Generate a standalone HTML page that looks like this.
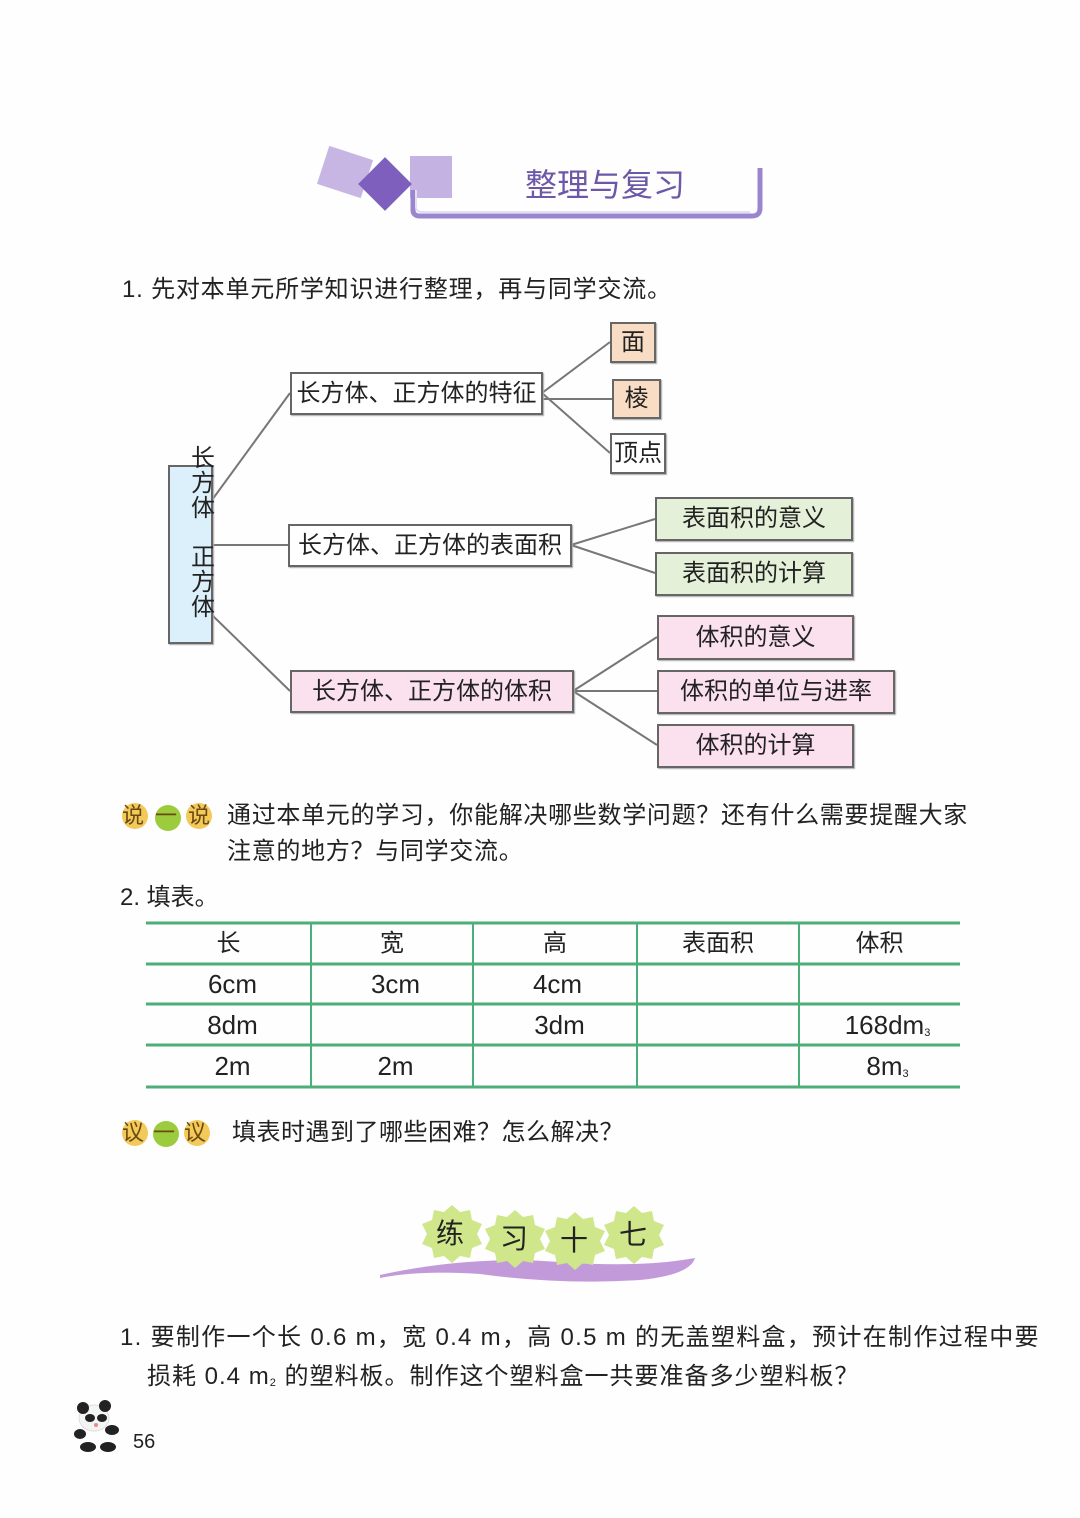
<!DOCTYPE html>
<html><head><meta charset="utf-8"><style>
body{margin:0;background:#fff;}
#p{position:relative;width:1080px;height:1518px;background:#fefefe;overflow:hidden;font-family:"Liberation Sans","Noto Sans CJK SC",sans-serif;color:#222;}
.t{position:absolute;white-space:nowrap;font-size:24px;line-height:30px;}
.b{position:absolute;box-sizing:border-box;border:2px solid #666;font-size:24px;line-height:1;display:flex;align-items:center;justify-content:center;white-space:nowrap;box-shadow:1px 1px 1px #aaa;}
.c{position:absolute;font-size:26px;text-align:center;line-height:30px;}
sub{font-size:11px;vertical-align:-2px;}
</style></head><body><div id="p">
<svg width="1080" height="1518" style="position:absolute;left:0;top:0">
 <rect x="322" y="152" width="46" height="40" fill="#c7b6e4" transform="rotate(18 345 172)"/>
 <rect x="410" y="156" width="42" height="42" fill="#c4b2e2"/>
 <rect x="366" y="165" width="38" height="38" fill="#7e5fbe" transform="rotate(45 385 184)"/>
 <path d="M413 190 V210 Q413 216 420 216 H752 Q760 216 760 208 V168" fill="none" stroke="#9a86cf" stroke-width="5"/>
 <path d="M416 190 V207 Q416 212 422 212 H750" fill="none" stroke="#e4ddf4" stroke-width="2"/>
 <g stroke="#777" stroke-width="2" fill="none">
  <line x1="212" y1="500" x2="290" y2="393"/>
  <line x1="212" y1="545" x2="288" y2="545"/>
  <line x1="212" y1="615" x2="290" y2="691"/>
  <line x1="542" y1="393" x2="610" y2="342"/>
  <line x1="542" y1="399" x2="612" y2="399"/>
  <line x1="542" y1="393" x2="610" y2="453"/>
  <line x1="571" y1="545" x2="655" y2="519"/>
  <line x1="571" y1="545" x2="655" y2="573"/>
  <line x1="573" y1="691" x2="657" y2="637"/>
  <line x1="573" y1="691" x2="657" y2="691"/>
  <line x1="573" y1="691" x2="657" y2="745"/>
 </g>
 <g stroke="#4cae78" stroke-width="3">
  <line x1="146" y1="923" x2="960" y2="923"/>
  <line x1="146" y1="964" x2="960" y2="964"/>
  <line x1="146" y1="1004" x2="960" y2="1004"/>
  <line x1="146" y1="1045" x2="960" y2="1045"/>
  <line x1="146" y1="1087" x2="960" y2="1087"/>
 </g>
 <g stroke="#4cae78" stroke-width="2">
  <line x1="311" y1="923" x2="311" y2="1087"/>
  <line x1="473" y1="923" x2="473" y2="1087"/>
  <line x1="637" y1="923" x2="637" y2="1087"/>
  <line x1="799" y1="923" x2="799" y2="1087"/>
 </g>
 <circle cx="135" cy="816" r="13" fill="#f3c95a"/><circle cx="168" cy="818" r="13" fill="#9ccb3e"/><circle cx="199" cy="816" r="13" fill="#f3c95a"/>
 <circle cx="135" cy="1133" r="13" fill="#f3c95a"/><circle cx="166" cy="1134" r="13" fill="#9ccb3e"/><circle cx="197" cy="1133" r="13" fill="#f3c95a"/>
 <path d="M380 1275 Q470 1255 560 1262 Q640 1268 695 1258 Q690 1275 640 1280 Q560 1285 480 1274 Q420 1270 380 1278Z" fill="#c39ad9"/>
 <g fill="#cfe68a">
  <polygon points="452,1205 460,1212 470,1210 472,1220 482,1224 477,1234 482,1244 472,1248 470,1258 460,1256 452,1263 444,1256 434,1258 432,1248 422,1244 427,1234 422,1224 432,1220 434,1210 444,1212"/>
  <polygon points="515,1210 523,1217 533,1215 535,1225 545,1229 540,1239 545,1249 535,1253 533,1263 523,1261 515,1268 507,1261 497,1263 495,1253 485,1249 490,1239 485,1229 495,1225 497,1215 507,1217"/>
  <polygon points="575,1212 583,1219 593,1217 595,1227 605,1231 600,1241 605,1251 595,1255 593,1265 583,1263 575,1270 567,1263 557,1265 555,1255 545,1251 550,1241 545,1231 555,1227 557,1217 567,1219"/>
  <polygon points="634,1206 642,1213 652,1211 654,1221 664,1225 659,1235 664,1245 654,1249 652,1259 642,1257 634,1264 626,1257 616,1259 614,1249 604,1245 609,1235 604,1225 614,1221 616,1211 626,1213"/>
 </g>
 <ellipse cx="94" cy="1418" rx="15" ry="13" fill="#f4f4f4" stroke="#ddd"/>
 <g fill="#222"><circle cx="83" cy="1408" r="6"/><circle cx="105" cy="1406" r="6"/><ellipse cx="90" cy="1418" rx="5" ry="4"/><ellipse cx="102" cy="1418" rx="5" ry="4"/><ellipse cx="80" cy="1434" rx="6" ry="5"/><ellipse cx="112" cy="1430" rx="7" ry="5"/><ellipse cx="88" cy="1447" rx="8" ry="5"/><ellipse cx="108" cy="1447" rx="8" ry="5"/></g>
 <circle cx="96" cy="1425" r="2" fill="#e88"/>
</svg>
<div class="t" style="left:525px;top:166px;font-size:32px;line-height:38px;color:#6d58a8;">整理与复习</div>
<div class="t" style="left:122px;top:275px;letter-spacing:0.8px;">1. 先对本单元所学知识进行整理，再与同学交流。</div>
<div class="b" style="left:168px;top:465px;width:45px;height:179px;background:#dcf0fb;"></div>
<div class="t" style="left:191px;top:446px;width:26px;font-size:24px;line-height:25px;white-space:normal;">长方体</div>
<div class="t" style="left:191px;top:545px;width:26px;font-size:24px;line-height:25px;white-space:normal;">正方体</div>
<div class="b" style="left:290px;top:372px;width:253px;height:43px;background:#fff;">长方体、正方体的特征</div>
<div class="b" style="left:610px;top:322px;width:46px;height:41px;background:#f9dcc4;">面</div>
<div class="b" style="left:612px;top:379px;width:49px;height:40px;background:#f9dcc4;">棱</div>
<div class="b" style="left:610px;top:433px;width:56px;height:41px;background:#fff;">顶点</div>
<div class="b" style="left:288px;top:524px;width:284px;height:43px;background:#fff;">长方体、正方体的表面积</div>
<div class="b" style="left:655px;top:497px;width:198px;height:44px;background:#e4f0d8;">表面积的意义</div>
<div class="b" style="left:655px;top:552px;width:198px;height:44px;background:#e4f0d8;">表面积的计算</div>
<div class="b" style="left:290px;top:670px;width:284px;height:43px;background:#fbe0ee;">长方体、正方体的体积</div>
<div class="b" style="left:657px;top:615px;width:197px;height:45px;background:#fbe0ee;">体积的意义</div>
<div class="b" style="left:657px;top:670px;width:238px;height:44px;background:#fbe0ee;">体积的单位与进率</div>
<div class="b" style="left:657px;top:724px;width:197px;height:44px;background:#fbe0ee;">体积的计算</div>
<div class="t" style="left:122px;top:801px;font-size:22px;color:#6a4a10;letter-spacing:11px;">说一说</div>
<div class="t" style="left:227px;top:801px;letter-spacing:0.7px;">通过本单元的学习，你能解决哪些数学问题？还有什么需要提醒大家</div>
<div class="t" style="left:227px;top:837px;letter-spacing:0.7px;">注意的地方？与同学交流。</div>
<div class="t" style="left:120px;top:883px;">2. 填表。</div>
<div class="c" style="left:146px;top:929px;width:165px;font-size:24px;">长</div>
<div class="c" style="left:311px;top:929px;width:162px;font-size:24px;">宽</div>
<div class="c" style="left:473px;top:929px;width:164px;font-size:24px;">高</div>
<div class="c" style="left:637px;top:929px;width:162px;font-size:24px;">表面积</div>
<div class="c" style="left:799px;top:929px;width:161px;font-size:24px;">体积</div>
<div class="c" style="left:150px;top:969px;width:165px;">6cm</div>
<div class="c" style="left:313px;top:969px;width:165px;">3cm</div>
<div class="c" style="left:475px;top:969px;width:165px;">4cm</div>
<div class="c" style="left:150px;top:1010px;width:165px;">8dm</div>
<div class="c" style="left:477px;top:1010px;width:165px;">3dm</div>
<div class="c" style="left:805px;top:1010px;width:165px;">168dm<sub>3</sub></div>
<div class="c" style="left:150px;top:1051px;width:165px;">2m</div>
<div class="c" style="left:313px;top:1051px;width:165px;">2m</div>
<div class="c" style="left:805px;top:1051px;width:165px;">8m<sub>3</sub></div>
<div class="t" style="left:122px;top:1118px;font-size:22px;color:#6a4a10;letter-spacing:9px;">议一议</div>
<div class="t" style="left:232px;top:1118px;letter-spacing:0.5px;">填表时遇到了哪些困难？怎么解决？</div>
<div class="t" style="left:436px;top:1219px;font-size:28px;">练</div>
<div class="t" style="left:500px;top:1224px;font-size:28px;">习</div>
<div class="t" style="left:560px;top:1226px;font-size:28px;">十</div>
<div class="t" style="left:619px;top:1220px;font-size:28px;">七</div>
<div class="t" style="left:120px;top:1323px;letter-spacing:1.3px;">1. 要制作一个长 0.6 m，宽 0.4 m，高 0.5 m 的无盖塑料盒，预计在制作过程中要</div>
<div class="t" style="left:147px;top:1362px;letter-spacing:1px;">损耗 0.4 m<sub>2</sub> 的塑料板。制作这个塑料盒一共要准备多少塑料板？</div>
<div class="t" style="left:133px;top:1427px;font-size:20px;">56</div>
</div></body></html>
